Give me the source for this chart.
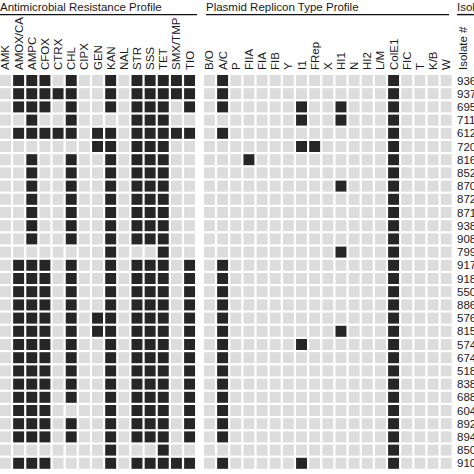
<!DOCTYPE html>
<html>
<head>
<meta charset="utf-8">
<script src="https://cdn.jsdelivr.net/npm/d3@7"></script>
<style>
  html, body { margin: 0; padding: 0; background: #fff; overflow: hidden; }
  svg { display: block; font-family: "Liberation Sans", Arial, sans-serif; }
</style>
</head>
<body>
<div id="chart"></div>
<script>
// Column names
const amrDrugs = ["AMK", "AMOX/CA", "AMPC", "CFOX", "CTRX", "CHL", "CIPX", "GEN",
  "KAN", "NAL", "STR", "SSS", "TET", "SMX/TMP", "TIO"];
const repliconTypes = ["B/O", "A/C", "P", "FIIA", "FIA", "FIB", "Y", "I1", "FRep",
  "X", "HI1", "N", "HI2", "L/M", "ColE1", "FIC", "T", "K/B", "W"];

// Row names (isolates, clipped at the image edge)
const isolates = ["936", "937", "695", "711", "612", "720", "816", "852", "870", "872",
  "871", "938", "908", "799", "917", "918", "550", "886", "576", "815",
  "574", "674", "518", "838", "688", "604", "892", "894", "850", "910"];

// Resistance profile, 1 = resistant (one row per isolate, columns as amrDrugs)
const amrProfile = [
  [0,1,1,1,0,1,0,0,1,0,1,1,1,1,1],
  [0,1,1,1,1,1,0,0,1,0,1,1,1,1,1],
  [0,1,1,1,0,1,0,0,1,0,1,1,1,0,1],
  [0,0,1,0,0,1,0,0,0,0,1,1,1,0,0],
  [0,1,1,1,1,1,0,1,1,0,1,1,1,1,1],
  [0,0,0,0,0,0,0,1,1,0,1,1,1,0,0],
  [0,0,1,0,0,1,0,0,1,0,1,1,1,0,0],
  [0,0,1,0,0,1,0,0,1,0,1,1,1,0,0],
  [0,0,1,0,0,1,0,0,1,0,1,1,1,0,0],
  [0,0,1,0,0,1,0,0,1,0,1,1,1,0,0],
  [0,0,1,0,0,1,0,0,1,0,1,1,1,0,0],
  [0,0,1,0,0,1,0,0,1,0,1,1,1,0,0],
  [0,0,1,0,0,1,0,0,1,0,1,1,1,0,0],
  [0,0,0,0,0,0,0,0,1,0,0,0,1,0,0],
  [0,1,1,1,0,1,0,0,1,0,1,1,1,0,1],
  [0,1,1,1,0,1,0,0,1,0,1,1,1,0,1],
  [0,1,1,1,0,1,0,0,1,0,1,1,1,0,1],
  [0,1,1,1,0,1,0,0,1,0,1,1,1,0,1],
  [0,1,1,1,0,1,0,1,1,0,1,1,1,0,1],
  [0,1,1,1,0,1,0,1,1,0,1,1,1,0,1],
  [0,1,1,1,0,1,0,0,1,0,1,1,1,0,1],
  [0,1,1,1,0,1,0,0,1,0,1,1,1,0,1],
  [0,1,1,1,0,1,0,0,1,0,1,1,1,0,1],
  [0,1,1,1,0,1,0,0,1,0,1,1,1,0,1],
  [0,1,1,1,0,1,0,0,1,0,1,1,1,0,1],
  [0,1,1,1,0,0,0,0,1,0,1,1,1,0,1],
  [0,1,1,1,0,1,0,0,1,0,1,1,1,0,1],
  [0,1,1,1,0,1,0,0,1,0,1,1,1,0,1],
  [0,0,0,0,0,0,0,0,1,0,0,0,1,0,0],
  [0,1,1,1,0,0,0,0,1,0,1,1,1,1,1]
];

// Plasmid replicon profile, 1 = detected (columns as repliconTypes)
const repliconProfile = [
  [0,1,0,0,0,0,0,0,0,0,0,0,0,0,1,0,0,0,0],
  [0,1,0,0,0,0,0,0,0,0,0,0,0,0,1,0,0,0,0],
  [0,1,0,0,0,0,0,1,0,0,1,0,0,0,1,0,0,0,0],
  [0,0,0,0,0,0,0,1,0,0,1,0,0,0,1,0,0,0,0],
  [0,1,0,0,0,0,0,0,0,0,0,0,0,0,1,0,0,0,0],
  [0,0,0,0,0,0,0,1,1,0,0,0,0,0,1,0,0,0,0],
  [0,0,0,1,0,0,0,0,0,0,0,0,0,0,1,0,0,0,0],
  [0,0,0,0,0,0,0,0,0,0,0,0,0,0,1,0,0,0,0],
  [0,0,0,0,0,0,0,0,0,0,1,0,0,0,1,0,0,0,0],
  [0,0,0,0,0,0,0,0,0,0,0,0,0,0,1,0,0,0,0],
  [0,0,0,0,0,0,0,0,0,0,0,0,0,0,1,0,0,0,0],
  [0,0,0,0,0,0,0,0,0,0,0,0,0,0,1,0,0,0,0],
  [0,0,0,0,0,0,0,0,0,0,0,0,0,0,1,0,0,0,0],
  [0,0,0,0,0,0,0,0,0,0,1,0,0,0,1,0,0,0,0],
  [0,1,0,0,0,0,0,0,0,0,0,0,0,0,1,0,0,0,0],
  [0,1,0,0,0,0,0,0,0,0,0,0,0,0,1,0,0,0,0],
  [0,1,0,0,0,0,0,0,0,0,0,0,0,0,1,0,0,0,0],
  [0,1,0,0,0,0,0,0,0,0,0,0,0,0,1,0,0,0,0],
  [0,1,0,0,0,0,0,0,0,0,0,0,0,0,1,0,0,0,0],
  [0,1,0,0,0,0,0,0,0,0,1,0,0,0,1,0,0,0,0],
  [0,1,0,0,0,0,0,1,0,0,0,0,0,0,1,0,0,0,0],
  [0,1,0,0,0,0,0,0,0,0,0,0,0,0,1,0,0,0,0],
  [0,1,0,0,0,0,0,0,0,0,0,0,0,0,1,0,0,0,0],
  [0,1,0,0,0,0,0,0,0,0,0,0,0,0,1,0,0,0,0],
  [0,1,0,0,0,0,0,0,0,0,0,0,0,0,1,0,0,0,0],
  [0,1,0,0,0,0,0,0,0,0,0,0,0,0,1,0,0,0,0],
  [0,1,0,0,0,0,0,0,0,0,0,0,0,0,1,0,0,0,0],
  [0,1,0,0,0,0,0,0,0,0,0,0,0,0,1,0,0,0,0],
  [0,0,0,0,0,0,0,0,0,0,0,0,0,0,1,0,0,0,0],
  [0,1,0,0,0,0,0,1,0,0,0,0,0,0,1,0,0,0,0]
];

const width = 474;
const height = 474;

const colStep = 13.15;
const rowStep = 13.2;
const gap = 2.2;
const gridTop = 75 - gap / 2;
const labelBase = 70;
const fontSize = "11.5px";
const textColor = "#1a1a1a";
const onColor = "#262626";
const offColor = "#dcdcdc";

const svg = d3
  .select("#chart")
  .append("svg")
  .attr("width", width)
  .attr("height", height)
  .attr("viewBox", [0, 0, width, height]);

// Row scale shared by both panels
const y = d3
  .scaleBand()
  .domain(isolates)
  .range([gridTop, gridTop + isolates.length * rowStep])
  .paddingInner(gap / rowStep)
  .paddingOuter(gap / rowStep / 2);

// Draw one panel of cells with its header and rotated column labels
function drawPanel(cols, profile, x0, title, lineEnd) {
  const x = d3
    .scaleBand()
    .domain(cols)
    .range([x0, x0 + cols.length * colStep])
    .paddingInner(gap / colStep)
    .paddingOuter(gap / colStep / 2);

  const g = svg.append("g");

  const cells = [];
  profile.forEach((row, i) => {
    row.forEach((v, j) => {
      cells.push({ isolate: isolates[i], col: cols[j], value: v });
    });
  });

  g.selectAll("rect")
    .data(cells)
    .join("rect")
    .attr("x", (d) => x(d.col))
    .attr("y", (d) => y(d.isolate))
    .attr("width", x.bandwidth())
    .attr("height", y.bandwidth())
    .attr("fill", (d) => (d.value ? onColor : offColor));

  // Column labels
  g.selectAll(".col-label")
    .data(cols)
    .join("text")
    .attr("class", "col-label")
    .attr("transform", (d) => `translate(${x(d) + x.bandwidth() / 2 + 4},${labelBase}) rotate(-90)`)
    .style("font-size", fontSize)
    .attr("fill", textColor)
    .text((d) => d);

  // Header
  const hx = x(cols[0]) + (x0 > 100 ? 2 : 0);
  g.append("text")
    .attr("x", hx)
    .attr("y", 11)
    .style("font-size", fontSize)
    .attr("fill", textColor)
    .text(title);

  g.append("line")
    .attr("x1", hx)
    .attr("x2", lineEnd)
    .attr("y1", 14.6)
    .attr("y2", 14.6)
    .attr("stroke", "#111")
    .attr("stroke-width", 1.4);

  return x;
}

drawPanel(amrDrugs, amrProfile, -1.1, "Antimicrobial Resistance Profile", 197);
drawPanel(repliconTypes, repliconProfile, 202.9, "Plasmid Replicon Type Profile", 449);

// Isolate column
const isoX = 457;

svg.append("text")
  .attr("x", isoX)
  .attr("y", 11)
  .style("font-size", fontSize)
  .attr("fill", textColor)
  .text("Isolate #");

svg.append("line")
  .attr("x1", isoX)
  .attr("x2", width)
  .attr("y1", 14.6)
  .attr("y2", 14.6)
  .attr("stroke", "#111")
  .attr("stroke-width", 1.4);

svg.append("text")
  .attr("transform", `translate(${isoX + 10},${labelBase}) rotate(-90)`)
  .style("font-size", fontSize)
  .attr("fill", textColor)
  .text("Isolate #");

svg.selectAll(".iso-label")
  .data(isolates)
  .join("text")
  .attr("class", "iso-label")
  .attr("x", isoX)
  .attr("y", (d) => y(d) + y.bandwidth() / 2)
  .attr("dy", "0.36em")
  .style("font-size", fontSize)
  .attr("fill", textColor)
  .text((d) => d);
</script>
</body>
</html>
